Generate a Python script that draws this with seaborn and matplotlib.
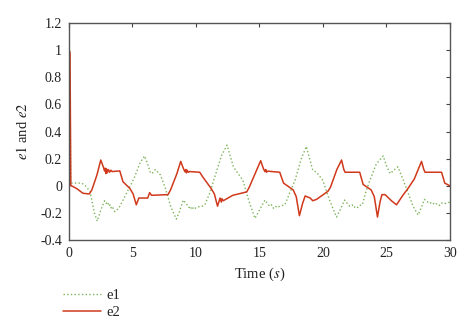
import matplotlib
matplotlib.use("Agg")
import matplotlib.pyplot as plt
import seaborn as sns
import pandas as pd

# ---------------- data ----------------
t_e1 = [0.0, 0.06, 0.14, 0.5, 1.0, 1.3, 1.65, 2.0, 2.22, 2.5, 2.8, 2.95, 3.05, 3.15, 3.25, 3.35, 3.45,
        3.6, 3.7, 3.9, 4.5, 5.1, 5.6, 5.95, 6.2, 6.4, 6.55, 6.8, 7.0, 7.2, 7.6, 8.0, 8.45,
        8.7, 9.0, 9.3, 9.45, 9.55, 9.66, 9.8, 9.9, 10.0, 10.2, 10.5, 10.7, 11.1, 11.5, 12.0,
        12.45, 12.7, 12.95, 13.25, 13.7, 14.2, 14.65, 15.0, 15.43, 15.8, 15.95, 16.1, 16.25,
        16.4, 16.6, 17.0, 17.4, 17.8, 18.3, 18.7, 18.95, 19.2, 19.5, 20.0, 20.5, 21.07, 21.4,
        21.7, 22.1, 22.3, 22.45, 22.6, 22.75, 22.9, 23.1, 23.4, 23.7, 24.2, 24.75, 25.0,
        25.3, 25.9, 26.3, 26.7, 27.1, 27.5, 27.75, 28.0, 28.4, 28.6, 28.8, 29.0, 29.2, 29.4,
        29.7, 30.0]
e1 = [1.02, 1.0, 0.02, 0.02, 0.02, 0.0, -0.04, -0.2, -0.26, -0.18, -0.11, -0.13, -0.12, -0.15,
      -0.14, -0.17, -0.16, -0.19, -0.18, -0.17, -0.06, 0.05, 0.17, 0.22, 0.16, 0.1, 0.09,
      0.12, 0.1, 0.08, -0.02, -0.15, -0.245, -0.19, -0.105, -0.14, -0.16, -0.15, -0.175,
      -0.16, -0.17, -0.16, -0.155, -0.15, -0.14, -0.05, 0.07, 0.22, 0.3, 0.22, 0.14, 0.1,
      0.04, -0.12, -0.24, -0.18, -0.105, -0.15, -0.14, -0.165, -0.15, -0.16, -0.15, -0.14,
      -0.05, 0.04, 0.2, 0.29, 0.2, 0.115, 0.1, 0.04, -0.1, -0.23, -0.17, -0.105, -0.15,
      -0.14, -0.16, -0.15, -0.16, -0.145, -0.14, -0.04, 0.04, 0.16, 0.22, 0.15, 0.09, 0.14,
      0.05, -0.05, -0.15, -0.215, -0.16, -0.1, -0.13, -0.12, -0.14, -0.13, -0.145, -0.125,
      -0.13, -0.12]

t_e2 = [0.0, 0.08, 0.14, 0.2, 0.6, 1.1, 1.6, 1.8, 2.2, 2.5, 2.7, 2.8, 2.85, 2.9, 2.95, 3.0, 3.1,
        3.2, 3.3, 3.4, 4.0, 4.25, 4.8, 5.05, 5.3, 5.5, 6.2, 6.35, 6.5, 7.8, 8.0, 8.5, 8.8,
        9.0, 9.13, 9.2, 9.25, 9.3, 9.4, 9.5, 10.3, 10.5, 11.2, 11.45, 11.7, 11.9, 12.0,
        12.05, 12.15, 12.9, 14.0, 14.2, 14.8, 15.1, 15.3, 15.43, 15.5, 15.55, 15.65, 16.6,
        16.9, 17.66, 17.9, 18.15, 18.4, 18.6, 19.0, 19.2, 19.5, 20.4, 20.6, 21.1, 21.47,
        21.65, 21.75, 22.9, 23.17, 23.8, 24.05, 24.3, 24.5, 24.65, 24.9, 25.4, 25.8, 26.3,
        26.7, 27.2, 27.77, 27.95, 28.05, 29.35, 29.6, 30.0]
e2 = [1.0, 0.98, 0.0, 0.0, -0.02, -0.055, -0.06, -0.03, 0.08, 0.19, 0.14, 0.11, 0.13, 0.09,
      0.125, 0.095, 0.12, 0.1, 0.115, 0.105, 0.11, 0.03, -0.02, -0.06, -0.14, -0.09, -0.09,
      -0.05, -0.07, -0.065, -0.03, 0.09, 0.18, 0.13, 0.104, 0.12, 0.095, 0.115, 0.1, 0.105,
      0.1, 0.07, -0.02, -0.06, -0.15, -0.09, -0.12, -0.095, -0.11, -0.07, -0.045, -0.01,
      0.12, 0.185, 0.13, 0.105, 0.12, 0.1, 0.108, 0.1, 0.02, -0.03, -0.08, -0.22, -0.13,
      -0.075, -0.09, -0.11, -0.1, -0.04, -0.01, 0.12, 0.19, 0.12, 0.1, 0.1, 0.01, -0.03,
      -0.08, -0.23, -0.12, -0.065, -0.065, -0.11, -0.14, -0.07, -0.02, 0.05, 0.18, 0.12,
      0.1, 0.1, 0.02, 0.0]

x_ticks = [0, 5, 10, 15, 20, 25, 30]
y_ticks = [-0.4, -0.2, 0, 0.2, 0.4, 0.6, 0.8, 1.0, 1.2]
y_tick_labels = ["-0.4", "-0.2", "0", "0.2", "0.4", "0.6", "0.8", "1", "1.2"]

# ---------------- plot ----------------
sns.set_theme(style="white")
plt.rcParams["font.family"] = ["Liberation Serif", "DejaVu Serif"]
plt.rcParams["mathtext.fontset"] = "stix"
plt.rcParams["axes.unicode_minus"] = False

fig = plt.figure(figsize=(4.74, 3.33), dpi=100)
ax = fig.add_axes([0.1456, 0.279, 0.8034, 0.652])

df1 = pd.DataFrame({"t": t_e1, "v": e1})
df2 = pd.DataFrame({"t": t_e2, "v": e2})
sns.lineplot(data=df1, x="t", y="v", ax=ax, estimator=None, sort=False,
             color="#7db35a", linestyle=":", linewidth=1.0, label="e1")
sns.lineplot(data=df2, x="t", y="v", ax=ax, estimator=None, sort=False,
             color="#d0391b", linestyle="-", linewidth=1.1, label="e2")

ax.set_xlim(0, 30)
ax.set_ylim(-0.4, 1.2)
ax.set_xticks(x_ticks)
ax.set_xticklabels([str(v) for v in x_ticks])
ax.set_yticks(y_ticks)
ax.set_yticklabels(y_tick_labels)
ax.tick_params(direction="in", length=3, width=0.8, colors="#444444",
               top=True, right=True, labelsize=10, labelcolor="#222222", pad=5)
for s in ax.spines.values():
    s.set_color("#555555")
    s.set_linewidth(1.0)

ax.set_xlabel(r"Time ($\mathit{s}$)", fontsize=10.5, color="#222222", labelpad=4)
ax.set_ylabel(r"$\mathit{e1}$ and $\mathit{e2}$", fontsize=10.5, color="#222222", labelpad=7)

ax.get_legend().remove()
h, l = ax.get_legend_handles_labels()
fig.legend(h, l, loc="upper left", bbox_to_anchor=(0.133, 0.133), frameon=False,
           fontsize=10.5, handlelength=2.6, labelspacing=0.28, handletextpad=0.4,
           borderaxespad=0.0, borderpad=0.0)

fig.savefig("out.png", dpi=100)
